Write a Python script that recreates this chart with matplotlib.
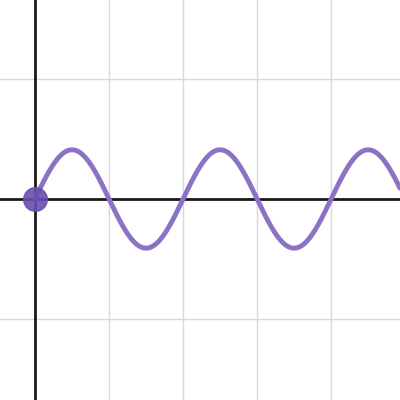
import numpy as np
import matplotlib
matplotlib.use("Agg")
import matplotlib.pyplot as plt

# curve parameters (x grid = 1 unit, y grid = 1 unit)
amplitude = 0.41
period = 2.0
x_range = [-0.473, 4.93]
y_range = [-1.675, 1.658]
point = [0.0, 0.0]

fig = plt.figure(figsize=(4, 4), dpi=100)
ax = fig.add_axes([0, 0, 1, 1])
ax.set_xlim(*x_range)
ax.set_ylim(*y_range)

for gx in range(1, 5):
    ax.axvline(gx, color="#d9d9d9", lw=1, zorder=0)
for gy in (-1, 1):
    ax.axhline(gy, color="#d9d9d9", lw=1, zorder=0)
ax.axhline(0, color="#1a1a1a", lw=2, zorder=1)
ax.axvline(0, color="#1a1a1a", lw=2, zorder=1)

x = np.linspace(0, x_range[1], 600)
ax.plot(x, amplitude * np.sin(2 * np.pi * x / period), color="#8c72c4", lw=3.5,
        solid_capstyle="round", zorder=2)
ax.plot(*point, "o", color="#6a4db0", ms=17, alpha=0.9, zorder=3)

ax.axis("off")
fig.savefig("out.png", dpi=100)
